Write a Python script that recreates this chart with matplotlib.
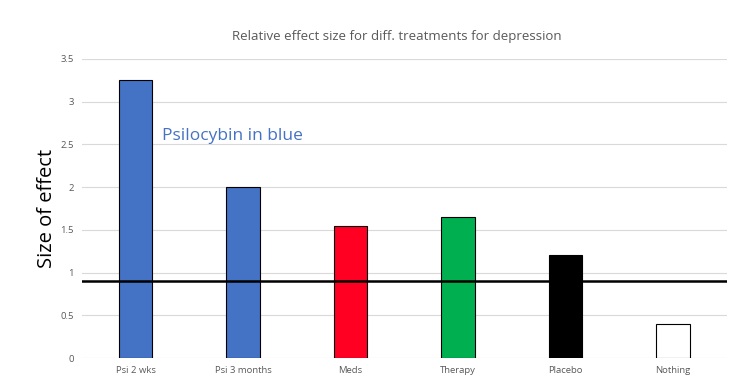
import matplotlib
matplotlib.use("Agg")
import matplotlib.pyplot as plt
import numpy as np

categories = ["Psi 2 wks", "Psi 3 months", "Meds", "Therapy", "Placebo", "Nothing"]
effect = [3.25, 2.0, 1.55, 1.65, 1.2, 0.4]
bar_colors = ["#4472C4", "#4472C4", "#FF0022", "#00B050", "#000000", "#FFFFFF"]
threshold = 0.9
yticks = [0, 0.5, 1, 1.5, 2, 2.5, 3, 3.5]

plt.rcParams['font.family'] = ['Open Sans', 'DejaVu Sans']

fig = plt.figure(figsize=(7.44, 3.85), dpi=100)
ax = fig.add_axes([0.110, 0.070, 0.867, 0.777])

x = np.arange(len(categories))
ax.bar(x, effect, width=0.31, color=bar_colors, edgecolor="black", linewidth=0.8, zorder=3)
ax.axhline(threshold, color="black", linewidth=1.8, zorder=4)

ax.set_xlim(-0.5, len(categories) - 0.5)
ax.set_ylim(0, 3.5)
ax.set_yticks(yticks)
ax.set_yticklabels([f"{v:g}" for v in yticks])
ax.set_xticks(x)
ax.set_xticklabels(categories)
ax.tick_params(length=0, labelsize=6.8, colors="#595959", pad=6)
ax.yaxis.grid(True, color="#D9D9D9", linewidth=0.8, zorder=0)
for s in ax.spines.values():
    s.set_visible(False)

ax.set_ylabel("Size of effect", fontsize=14.5, color="black", labelpad=2)
fig.text(0.534, 0.905, "Relative effect size for diff. treatments for depression",
         ha="center", va="center", fontsize=9.5, color="#595959")
ax.text(0.25, 2.6, "Psilocybin in blue", fontsize=12.5, color="#4472C4", va="center")

fig.savefig("out.png", dpi=100)
